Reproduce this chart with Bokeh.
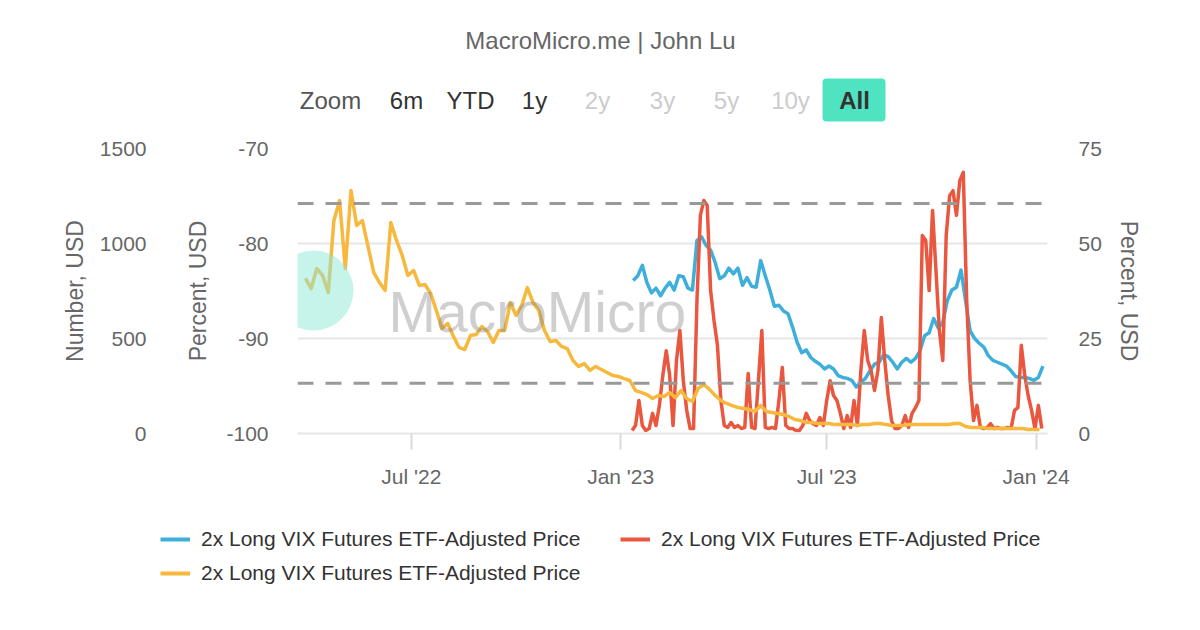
import pandas as pd
from bokeh.plotting import figure
from bokeh.layouts import column
from bokeh.models import (Range1d, LinearAxis, FixedTicker, DatetimeTickFormatter,
                          Label, Legend, LegendItem, Span, BoxAnnotation)
from bokeh.core.properties import value
from bokeh.embed import file_html
from bokeh.resources import INLINE

# ---------------- data ----------------
TITLE = "MacroMicro.me | John Lu"
SERIES_NAME = "2x Long VIX Futures ETF-Adjusted Price"
BUTTONS = ["Zoom", "6m", "YTD", "1y", "2y", "3y", "5y", "10y", "All"]

# yellow: Number, USD (left outer axis), sampled every 5 days
yellow_start, yellow_step = "2022-03-30", "5D"
yellow_vals = [816, 763, 868, 832, 742, 1121, 1226, 868, 1279, 1095,
               1121, 984, 847, 795, 753, 1111, 1016, 937, 832, 858,
               779, 784, 737, 647, 553, 579, 511, 453, 442, 516,
               521, 563, 537, 479, 542, 542, 689, 621, 674, 768,
               689, 647, 542, 484, 489, 458, 447, 384, 353, 368,
               332, 353, 337, 321, 305, 300, 289, 279, 226, 216,
               205, 184, 200, 195, 216, 189, 226, 184, 168, 237,
               258, 232, 200, 174, 158, 147, 137, 132, 126, 116,
               147, 116, 111, 105, 100, 89, 74, 68, 58, 58,
               53, 53, 53, 47, 47, 47, 47, 42, 47, 47,
               53, 53, 47, 42, 42, 42, 47, 47, 47, 47,
               47, 47, 47, 47, 53, 53, 37, 32, 32, 32,
               26, 26, 26, 26, 26, 26, 26, 21, 21, 21]

# blue: Percent, USD (left inner axis), sampled every 4 days
blue_start, blue_step = "2023-01-12", "4D"
blue_vals = [-83.9, -83.4, -82.3, -84.1, -85.2, -84.7, -85.5, -84.7, -84.1, -84.9,
             -83.4, -83.5, -84.7, -84.9, -79.7, -79.3, -80.2, -80.7, -82.0, -83.7,
             -83.4, -82.6, -83.2, -82.6, -84.4, -83.6, -84.5, -84.6, -81.8, -83.4,
             -84.9, -86.6, -86.5, -87.1, -87.4, -88.8, -90.4, -91.5, -91.2, -92.0,
             -92.4, -92.7, -93.2, -92.9, -93.2, -93.9, -94.1, -94.2, -94.4, -95.1,
             -94.6, -94.2, -93.4, -92.7, -92.5, -91.7, -91.9, -92.5, -93.2, -92.5,
             -92.1, -92.5, -92.1, -91.3, -89.7, -89.4, -87.9, -88.9, -88.3, -86.0,
             -84.9, -84.6, -82.8, -86.0, -89.2, -90.0, -90.5, -90.9, -91.8, -92.3,
             -92.5, -92.7, -92.9, -93.4, -94.0, -94.1, -94.1, -94.2, -94.4, -94.1,
             -92.9]

# red: Percent, USD (right axis), sampled every 3 days
red_start, red_step = "2023-01-11", "3D"
red_vals = [0.8, 2.1, 8.7, 2.1, 0.8, 1.3, 5.3, 2.1, 7.4, 15.3,
            21.8, 15.3, 2.1, 19.2, 27.1, 13.9, 6.1, 1.3, 1.3, 35.0,
            57.4, 61.3, 60.0, 37.6, 29.7, 23.2, 8.7, 2.1, 1.6, 2.9,
            1.6, 2.1, 1.3, 1.6, 15.8, 1.6, 1.3, 13.9, 27.1, 1.6,
            1.3, 1.6, 1.3, 8.7, 17.4, 2.1, 1.3, 1.3, 0.8, 0.8,
            2.1, 5.3, 3.4, 2.6, 2.1, 4.2, 2.1, 8.7, 13.9, 10.0,
            8.7, 5.3, 1.3, 4.7, 1.6, 8.7, 2.1, 16.6, 27.1, 19.2,
            16.6, 11.3, 16.6, 30.5, 19.2, 10.0, 3.4, 1.3, 1.3, 2.1,
            4.7, 1.6, 5.3, 6.8, 8.7, 52.1, 50.8, 37.6, 58.7, 42.9,
            27.1, 19.2, 52.1, 62.6, 63.9, 57.4, 66.6, 68.7, 35.0, 13.9,
            3.4, 7.4, 1.6, 1.3, 1.6, 2.6, 1.3, 1.6, 1.3, 1.3,
            1.6, 1.3, 6.1, 6.8, 23.2, 15.3, 10.0, 6.1, 1.3, 7.4,
            1.3]

# reference lines (right axis)
band_levels = [60.5, 13.2]

x_start, x_end = "2022-03-23", "2024-01-11"
x_tick_dates = ["2022-07-01", "2023-01-01", "2023-07-01", "2024-01-01"]
num_ticks = [0, 500, 1000, 1500]
pct_left_ticks = [-100, -90, -80, -70]
pct_right_ticks = [0, 25, 50, 75]

# ---------------- styling ----------------
FONT = "Liberation Sans"
BLUE, RED, YELLOW = "#3eaedb", "#e9573f", "#f6b93e"
TXT = "#666666"
LW = 3.5
W = 1184
HEAD_H, MAIN_H, FOOT_H = 130, 370, 114
FL, FR, FT, FB = 297, 1047, 148, 433  # frame edges in page px

yellow_x = pd.date_range(yellow_start, periods=len(yellow_vals), freq=yellow_step)
blue_x = pd.date_range(blue_start, periods=len(blue_vals), freq=blue_step)
red_x = pd.date_range(red_start, periods=len(red_vals), freq=red_step)


def no_align(fig):
    if "frame_align" in fig.properties():
        fig.frame_align = False
    return fig


def bare(fig):
    fig.outline_line_color = None
    fig.xgrid.visible = False
    fig.ygrid.visible = False
    fig.background_fill_color = "white"
    fig.border_fill_color = "white"
    return no_align(fig)


# ---------------- header: title + range selector ----------------
head = bare(figure(width=W, height=HEAD_H, x_range=Range1d(0, W), y_range=Range1d(HEAD_H, 0),
                   output_backend="svg", toolbar_location=None,
                   x_axis_location=None, y_axis_location=None,
                   min_border_left=0, min_border_right=0, min_border_top=0,
                   min_border_bottom=0))
head.text(x=[600], y=[40], text=[TITLE], text_font=value(FONT), text_font_size="24px",
          text_color=TXT, text_align="center", text_baseline="middle")
btn_x = [330, 406, 470, 534, 597, 662, 726, 790, 854]
btn_col = ["#555555", "#333333", "#333333", "#333333", "#cccccc", "#cccccc",
           "#cccccc", "#cccccc", "#333333"]
head.quad(left=[822], right=[885], top=[78], bottom=[121], fill_color="#50e3c2",
          line_color=None, border_radius=4)
head.text(x=btn_x[:-1], y=[100] * 8, text=BUTTONS[:-1], text_font=value(FONT),
          text_font_size="24px", text_color=btn_col[:-1], text_align="center",
          text_baseline="middle")
head.text(x=btn_x[-1:], y=[100], text=BUTTONS[-1:], text_font=value(FONT),
          text_font_size="24px", text_color=btn_col[-1], text_font_style="bold",
          text_align="center", text_baseline="middle")

# ---------------- main chart ----------------
p = figure(width=W, height=MAIN_H, x_axis_type="datetime",
           x_range=Range1d(pd.Timestamp(x_start), pd.Timestamp(x_end)),
           y_range=Range1d(-100, -70),
           output_backend="svg", toolbar_location=None,
           min_border_left=FL, min_border_right=W - FR,
           min_border_top=FT - HEAD_H, min_border_bottom=HEAD_H + MAIN_H - FB)
no_align(p)
p.outline_line_color = None
p.background_fill_color = "white"
p.border_fill_color = "white"
p.extra_y_ranges = {"num": Range1d(0, 1500), "pct": Range1d(0, 75)}

p.xgrid.visible = False
p.ygrid.ticker = FixedTicker(ticks=pct_left_ticks)
p.ygrid.grid_line_color = "#e6e6e6"
p.ygrid.grid_line_width = 2


def style_y(ax, ticks, label_standoff, title_standoff):
    ax.ticker = FixedTicker(ticks=ticks)
    ax.major_label_overrides = {t: str(t) for t in ticks}
    ax.axis_line_color = None
    ax.major_tick_line_color = None
    ax.minor_tick_line_color = None
    ax.major_tick_out = 0
    ax.major_tick_in = 0
    ax.major_label_standoff = label_standoff
    ax.major_label_text_font = FONT
    ax.major_label_text_font_size = "21px"
    ax.major_label_text_color = TXT
    ax.axis_label_text_font = FONT
    ax.axis_label_text_font_size = "23px"
    ax.axis_label_text_font_style = "normal"
    ax.axis_label_text_color = TXT
    ax.axis_label_standoff = title_standoff


inner = p.yaxis[0]
inner.axis_label = "Percent, USD"
style_y(inner, pct_left_ticks, 29, 12)

outer = LinearAxis(y_range_name="num", axis_label="Number, USD")
style_y(outer, num_ticks, 36, 9)
p.add_layout(outer, "left")

right = LinearAxis(y_range_name="pct", axis_label="Percent, USD")
style_y(right, pct_right_ticks, 31, 11)
p.add_layout(right, "right")

xa = p.xaxis[0]
xa.ticker = FixedTicker(ticks=[pd.Timestamp(d).timestamp() * 1000 for d in x_tick_dates])
fmt = "%b '%y"
xa.formatter = DatetimeTickFormatter(years=fmt, months=fmt, days=fmt, hours=fmt,
                                     minutes=fmt, seconds=fmt, milliseconds=fmt,
                                     microseconds=fmt, hourmin=fmt, minsec=fmt)
xa.axis_line_color = "#e6e6e6"
xa.axis_line_width = 2
xa.major_tick_line_color = "#d9d9d9"
xa.major_tick_line_width = 2
xa.major_tick_out = 16
xa.major_tick_in = 0
xa.minor_tick_line_color = None
xa.major_label_standoff = 15
xa.major_label_text_font = FONT
xa.major_label_text_font_size = "21px"
xa.major_label_text_color = TXT

for lvl in band_levels:
    p.add_layout(Span(location=lvl, dimension="width", y_range_name="pct",
                      line_color="#999999", line_width=3, line_dash="16 12"))

p.line(blue_x, blue_vals, color=BLUE, line_width=LW, line_join="round")
p.line(red_x, red_vals, color=RED, line_width=LW, y_range_name="pct", line_join="round")
p.line(yellow_x, yellow_vals, color=YELLOW, line_width=LW, y_range_name="num",
       line_join="round")

# translucent watermark drawn over the lines (screen units: frame bottom-left origin)
p.add_layout(BoxAnnotation(left=273 - FL, right=353 - FL, top=FB - 250, bottom=FB - 330,
                           left_units="screen", right_units="screen",
                           top_units="screen", bottom_units="screen",
                           fill_color="#8ee8d5", fill_alpha=0.5, line_color=None,
                           border_radius=40, level="overlay"))
p.add_layout(Label(x=388 - FL, y=FB - 311, x_units="screen", y_units="screen",
                   text="MacroMicro", text_font=FONT, text_font_size="57px",
                   text_color="#888888", text_alpha=0.4, text_baseline="alphabetic",
                   text_align="left", level="overlay"))

# ---------------- footer: legend ----------------
foot = bare(figure(width=W, height=FOOT_H, x_range=Range1d(0, 1), y_range=Range1d(0, 1),
                   output_backend="svg", toolbar_location=None,
                   x_axis_location=None, y_axis_location=None,
                   min_border_left=0, min_border_right=0, min_border_top=0,
                   min_border_bottom=0))
# legend-only renderers, kept outside the visible range
lb = foot.line([5, 6], [5, 6], color=BLUE, line_width=4)
lr = foot.line([5, 6], [5, 6], color=RED, line_width=4)
ly = foot.line([5, 6], [5, 6], color=YELLOW, line_width=4)


def make_legend(items, left, top):
    lg = Legend(items=items, orientation="horizontal",
                location=(left, FOOT_H - (top - (HEAD_H + MAIN_H)) - 30),
                label_text_font=FONT, label_text_font_size="21px",
                label_text_color="#333333", glyph_width=30, glyph_height=30,
                label_height=30, label_standoff=11, label_width=419, spacing=0,
                padding=0, margin=0, border_line_color=None, background_fill_alpha=0)
    foot.add_layout(lg)


make_legend([LegendItem(label=SERIES_NAME, renderers=[lb]),
             LegendItem(label=SERIES_NAME, renderers=[lr])], 160, 524)
make_legend([LegendItem(label=SERIES_NAME, renderers=[ly])], 160, 558)

layout = column(head, p, foot, spacing=0)
open("out.html", "w").write(file_html(layout, INLINE))
